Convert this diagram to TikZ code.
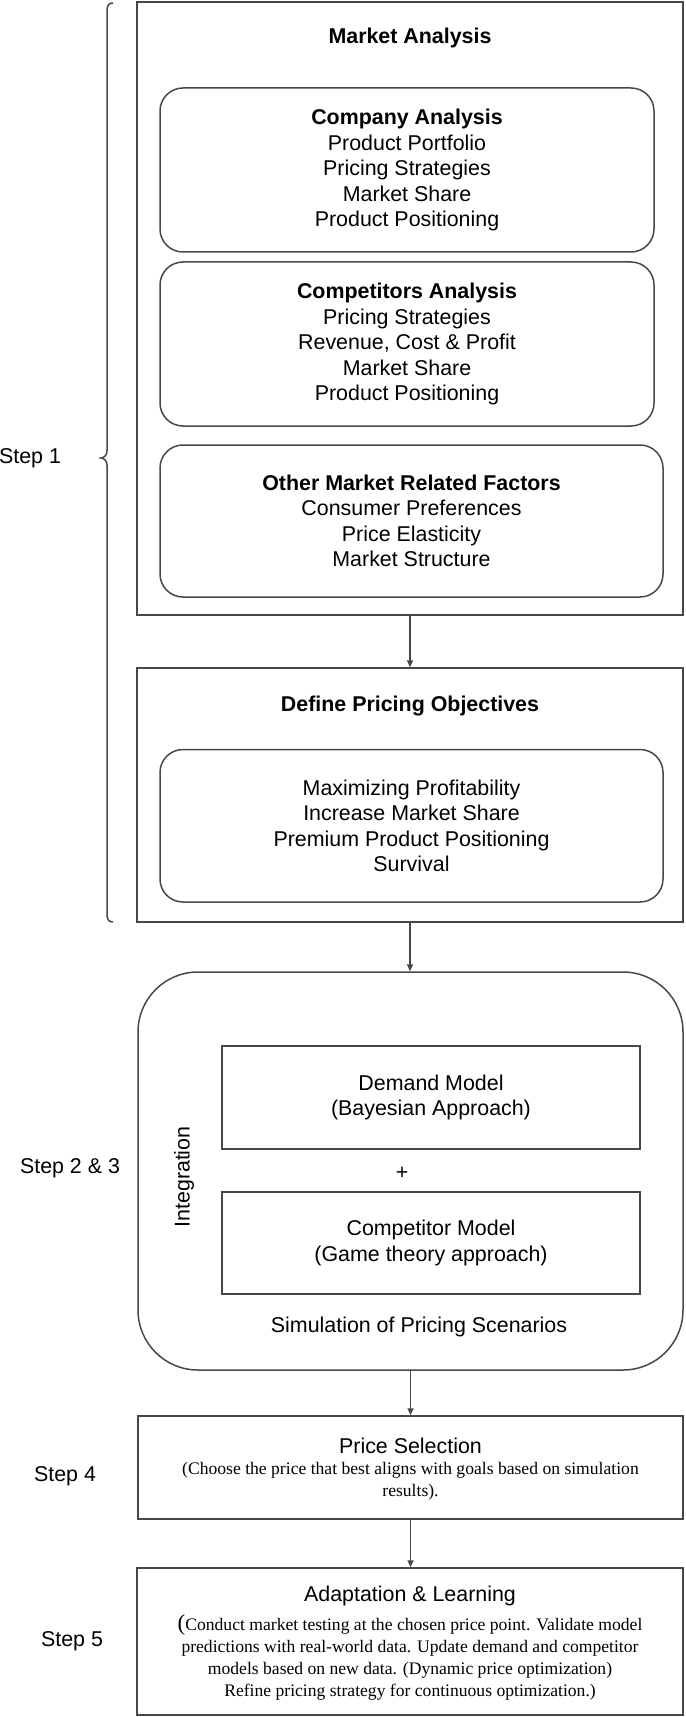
\documentclass[tikz,border=0pt]{standalone}
\usepackage{fontspec}
\setmainfont{Liberation Sans}
\newfontfamily\serifrm{Liberation Serif}
\usetikzlibrary{arrows.meta}
\begin{document}
\begin{tikzpicture}[x=0.5pt,y=-0.5pt,
  line/.style={draw=black!72, line width=0.75pt},
  sqbox/.style={line, rectangle, inner sep=0pt},
  rbox/.style={line, rectangle, rounded corners=11.5pt, inner sep=0pt},
  txt/.style={font=\fontsize{10.7}{12.75}\selectfont, align=center, text=black, inner sep=0pt},
  stxt/.style={font=\serifrm\fontsize{8.8}{11}\selectfont, align=center, text=black, inner sep=0pt},
  arr/.style={line, -{Triangle[length=3.5pt,width=3pt]}}]
\useasboundingbox (0,0) rectangle (685,1717);

% Step 1 block
\node[sqbox, minimum width=273pt, minimum height=306.5pt] (market) at (410,308.5) {};
\node[txt] (marketT) at (410,38) {\textbf{Market Analysis}};
\node[rbox, txt, minimum width=247pt, minimum height=82pt] (company) at (407,170)
  {\textbf{Company Analysis}\\Product Portfolio\\Pricing Strategies\\Market Share\\Product Positioning};
\node[rbox, txt, minimum width=247pt, minimum height=82pt] (comp) at (407,344)
  {\textbf{Competitors Analysis}\\Pricing Strategies\\Revenue, Cost \& Profit\\Market Share\\Product Positioning};
\node[rbox, txt, minimum width=251.5pt, minimum height=76pt] (other) at (411.5,521)
  {\textbf{Other Market Related Factors}\\Consumer Preferences\\Price Elasticity\\Market Structure};

\node[sqbox, minimum width=273pt, minimum height=127pt] (define) at (410,795) {};
\node[txt] (defineT) at (410,706.5) {\textbf{Define Pricing Objectives}};
\node[rbox, txt, minimum width=251.5pt, minimum height=76.25pt] (obj) at (411.5,825.75)
  {Maximizing Profitability\\Increase Market Share\\Premium Product Positioning\\Survival};

% brace and label
\coordinate (btip) at (101,458);
\draw[line] (113,3) .. controls (108,3) and (107,6) .. (107,12) -- (107,451)
  .. controls (107,455) and (104,458) .. (btip)
  .. controls (104,458) and (107,461) .. (107,465) -- (107,913)
  .. controls (107,919) and (108,922) .. (113,922);
\node[txt] (step1) at (30,458) {Step 1};

% Steps 2 & 3
\node[line, rectangle, rounded corners=30pt, minimum width=272.5pt, minimum height=199pt] (sim) at (410.5,1171) {};
\node[sqbox, txt, minimum width=209pt, minimum height=51.5pt] (demand) at (431,1097.5)
  {Demand Model\\(Bayesian Approach)};
\node[txt] (plus) at (402,1173) {+};
\node[sqbox, txt, minimum width=209pt, minimum height=51pt] (compmodel) at (431,1243)
  {Competitor Model\\(Game theory approach)};
\node[txt, rotate=90] (integ) at (184,1177) {Integration};
\node[txt] (simT) at (419,1327) {Simulation of Pricing Scenarios};
\node[txt] (step23) at (70,1168) {Step 2 \& 3};

% Step 4
\node[sqbox, minimum width=272.5pt, minimum height=51.5pt] (ps) at (410.5,1467.5) {};
\node[txt] (psT) at (410.5,1446) {Price Selection};
\node[stxt] (psB) at (410.5,1481.5) {(Choose the price that best aligns with goals based on simulation\\results).};
\node[txt] (step4) at (65,1476) {Step 4};

% Step 5
\node[sqbox, minimum width=273pt, minimum height=73.5pt] (al) at (410,1641.5) {};
\node[txt] (alT) at (410,1596) {Adaptation \& Learning};
\node[stxt] (alB) at (410,1657)
  {{\fontsize{11.5}{11}\selectfont(}Conduct market testing at the chosen price point. Validate model\\
   predictions with real-world data. Update demand and competitor\\
   models based on new data. (Dynamic price optimization)\\
   Refine pricing strategy for continuous optimization.)};
\node[txt] (step5) at (72,1641) {Step 5};

% connectors
\draw[arr] (market.south) -- (define.north);
\draw[arr] (define.south) -- (define.south |- sim.north);
\draw[arr] (ps.north |- sim.south) -- (ps.north);
\draw[arr] (ps.south) -- (ps.south |- al.north);
\end{tikzpicture}
\end{document}
